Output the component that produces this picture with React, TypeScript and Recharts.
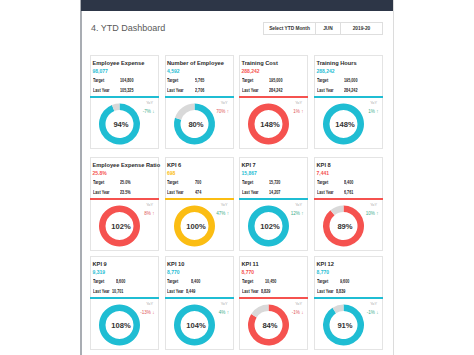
import React from 'react';
import { PieChart, Pie, Cell, Label } from 'recharts';

const titles = ['Employee Expense', 'Number of Employee', 'Training Cost', 'Training Hours', 'Employee Expense Ratio', 'KPI 6', 'KPI 7', 'KPI 8', 'KPI 9', 'KPI 10', 'KPI 11', 'KPI 12'];
const actuals = ['98,077', '4,592', '288,242', '288,242', '25.8%', '698', '15,867', '7,441', '9,319', '8,770', '8,770', '8,770'];
const targets = ['104,800', '5,765', '195,000', '195,000', '25.0%', '700', '15,720', '8,400', '8,600', '8,400', '10,450', '9,600'];
const lastYears = ['105,325', '2,706', '284,242', '284,242', '23.5%', '474', '14,207', '6,761', '10,701', '8,449', '8,829', '8,839'];
const achievement = [94, 80, 148, 148, 102, 100, 102, 89, 108, 104, 84, 91];
const yoyValues = ['-7%', '70%', '1%', '1%', '8%', '47%', '12%', '10%', '-13%', '4%', '-1%', '-1%'];
const statusKeys = ['good', 'good', 'bad', 'good', 'bad', 'even', 'good', 'bad', 'good', 'good', 'bad', 'good'];
const yoyKeys = ['good', 'bad', 'bad', 'good', 'bad', 'good', 'good', 'good', 'bad', 'good', 'bad', 'good'];

const STATUS_COLORS: Record<string, string> = { good: '#1fbdd3', bad: '#f5524f', even: '#fbbd13' };
const YOY_COLORS: Record<string, string> = { good: '#3fae8c', bad: '#e0585a' };
const GREY = '#d9d9d9';

const colX = [90, 164.5, 239, 314];
const rowY = [55, 157, 256];
const CARD_W = 69;
const CARD_H = 94;
const FONT = '"Liberation Sans", Arial, sans-serif';

function Card({ i }: { i: number }) {
  const col = i % 4;
  const row = Math.floor(i / 4);
  const color = STATUS_COLORS[statusKeys[i]];
  const filled = Math.min(achievement[i], 100);
  const data = [
    { name: 'achieved', value: filled },
    { name: 'rest', value: 100 - filled },
  ];
  const valOffset = row === 2 ? 25 : 29;
  const lyOffset = row === 2 ? 20.5 : 29;
  const up = !yoyValues[i].startsWith('-');
  const small: React.CSSProperties = {
    position: 'absolute', fontSize: 5.5, lineHeight: '6px', whiteSpace: 'nowrap', color: '#1e1e1e', fontWeight: 600,
    transform: 'scaleX(0.68)', transformOrigin: 'left center',
  };
  return (
    <div style={{ position: 'absolute', left: colX[col], top: rowY[row], width: CARD_W, height: CARD_H, background: '#fff', border: '1px solid #e4e4e4', boxSizing: 'border-box', fontFamily: FONT }}>
      <div style={{ position: 'absolute', left: 1.5, top: 3.5, fontSize: 5.7, lineHeight: '7px', fontWeight: 600, whiteSpace: 'nowrap', color: '#2a2a2a' }}>{titles[i]}</div>
      <div style={{ position: 'absolute', left: 1.5, top: 11.5, fontSize: 5, lineHeight: '7px', fontWeight: 600, whiteSpace: 'nowrap', color }}>{actuals[i]}</div>
      <div style={{ ...small, left: 1.5, top: 21 }}>Target</div>
      <div style={{ ...small, left: valOffset, top: 21 }}>{targets[i]}</div>
      <div style={{ ...small, left: 1.5, top: 31 }}>Last Year</div>
      <div style={{ ...small, left: lyOffset, top: 31 }}>{lastYears[i]}</div>
      <div style={{ position: 'absolute', left: -1, top: 40, width: CARD_W, height: 2, background: color }} />
      <div style={{ position: 'absolute', right: 5, top: 45, fontSize: 3.8, lineHeight: '5px', color: '#aaa' }}>YoY</div>
      <div style={{ position: 'absolute', right: 3.5, top: 52.5, fontSize: 4.6, lineHeight: '5px', whiteSpace: 'nowrap', color: YOY_COLORS[yoyKeys[i]] }}>
        {yoyValues[i]} {up ? '↑' : '↓'}
      </div>
      <div style={{ position: 'absolute', left: 0, top: 43 }}>
        <PieChart width={60} height={50} margin={{ top: 0, right: 0, bottom: 0, left: 0 }}>
          <Pie
            data={data}
            dataKey="value"
            cx={28.5}
            cy={25}
            innerRadius={14}
            outerRadius={20.5}
            startAngle={90}
            endAngle={-270}
            stroke="none"
            isAnimationActive={false}
          >
            <Cell fill={color} />
            <Cell fill={GREY} />
            <Label
              value={`${achievement[i]}%`}
              position="center"
              fill="#333"
              style={{ fontSize: 7.6, fontWeight: 600, fontFamily: FONT }}
            />
          </Pie>
        </PieChart>
      </div>
    </div>
  );
}

export default function App() {
  return (
    <div style={{ position: 'absolute', left: 0, top: 0, width: 474, height: 355, background: '#fff', overflow: 'hidden', fontFamily: FONT }}>
      <div style={{ position: 'absolute', left: 80, top: 0, width: 2, height: 355, background: '#a9adb3' }} />
      <div style={{ position: 'absolute', left: 393, top: 0, width: 1, height: 355, background: '#dcdcdc' }} />
      <div style={{ position: 'absolute', left: 81, top: 0, width: 312, height: 11, background: '#2d3647' }} />
      <div style={{ position: 'absolute', left: 91, top: 23, fontSize: 9, lineHeight: '11px', color: '#595959', whiteSpace: 'nowrap' }}>4. YTD Dashboard</div>
      <div style={{ position: 'absolute', left: 263, top: 22, width: 120, height: 13, border: '1px solid #dedede', boxSizing: 'border-box', display: 'flex', fontSize: 4.8, fontWeight: 700, color: '#333' }}>
        <div style={{ width: 51, borderRight: '1px solid #dedede', display: 'flex', alignItems: 'center', justifyContent: 'center' }}>Select YTD Month</div>
        <div style={{ width: 24, borderRight: '1px solid #dedede', display: 'flex', alignItems: 'center', justifyContent: 'center' }}>JUN</div>
        <div style={{ flex: 1, display: 'flex', alignItems: 'center', justifyContent: 'center' }}>2019-20</div>
      </div>
      {titles.map((_, i) => <Card key={i} i={i} />)}
    </div>
  );
}
